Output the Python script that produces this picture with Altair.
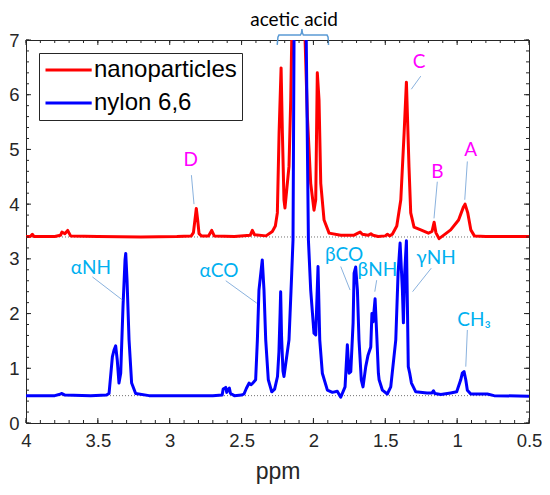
import altair as alt
import pandas as pd

# ---------------- data ----------------
series_names = ["nanoparticles", "nylon 6,6"]
series_colors = ["#ff0000", "#0000ff"]

red_ppm = [4.00, 3.97, 3.956, 3.945, 3.80, 3.76, 3.75, 3.73, 3.71, 3.69, 3.50, 3.20,
           2.95, 2.85, 2.835, 2.825, 2.815, 2.805, 2.796, 2.78, 2.73, 2.708, 2.69,
           2.55, 2.44, 2.425, 2.41, 2.33, 2.286, 2.265, 2.251, 2.239, 2.225, 2.216,
           2.205, 2.198, 2.17, 2.158, 2.151, 2.13, 2.10, 2.075, 2.058, 2.042, 2.019,
           1.996, 1.984, 1.973, 1.961, 1.949, 1.926, 1.891, 1.81, 1.72, 1.69, 1.675,
           1.66, 1.62, 1.60, 1.585, 1.55, 1.50, 1.485, 1.47, 1.451, 1.42, 1.392,
           1.369, 1.353, 1.335, 1.323, 1.30, 1.253, 1.20, 1.175, 1.16, 1.148, 1.126,
           1.10, 1.045, 0.99, 0.956, 0.945, 0.926, 0.905, 0.88, 0.80, 0.65, 0.50]
red_val = [3.41, 3.41, 3.45, 3.41, 3.41, 3.43, 3.49, 3.46, 3.52, 3.42, 3.41, 3.40,
           3.41, 3.42, 3.48, 3.70, 3.92, 3.70, 3.46, 3.42, 3.42, 3.52, 3.42,
           3.41, 3.43, 3.52, 3.44, 3.42, 3.50, 3.60, 3.84, 5.30, 6.49, 5.30,
           4.08, 3.93, 4.69, 5.90, 7.00, 9.00, 9.80, 9.00, 7.00, 5.60, 4.38,
           3.89, 4.08, 6.40, 5.90, 4.38, 3.71, 3.47, 3.43, 3.43, 3.47, 3.49,
           3.45, 3.43, 3.46, 3.43, 3.41, 3.42, 3.45, 3.42, 3.45, 3.60, 4.08,
           5.30, 6.23, 4.68, 3.84, 3.58, 3.53, 3.47, 3.50, 3.67, 3.48, 3.37,
           3.42, 3.53, 3.71, 3.95, 4.00, 3.84, 3.53, 3.42, 3.41, 3.41, 3.41]

blue_ppm = [4.00, 3.80, 3.77, 3.75, 3.73, 3.55, 3.44, 3.422, 3.399, 3.388, 3.376,
            3.365, 3.353, 3.341, 3.325, 3.311, 3.306, 3.297, 3.283, 3.265, 3.237,
            3.144, 2.90, 2.70, 2.635, 2.628, 2.61, 2.603, 2.595, 2.585, 2.577, 2.55,
            2.50, 2.483, 2.467, 2.448, 2.435, 2.425, 2.402, 2.39, 2.379, 2.356, 2.344,
            2.332, 2.314, 2.29, 2.27, 2.25, 2.24, 2.232, 2.228, 2.222, 2.212, 2.205,
            2.17, 2.151, 2.142, 2.135, 2.12, 2.09, 2.065, 2.05, 2.035, 2.019, 1.996,
            1.984, 1.968, 1.956, 1.938, 1.903, 1.868, 1.834, 1.81, 1.78, 1.764, 1.752,
            1.74, 1.724, 1.717, 1.706, 1.694, 1.683, 1.667, 1.655, 1.636, 1.62, 1.601,
            1.593, 1.585, 1.571, 1.56, 1.548, 1.543, 1.52, 1.486, 1.462, 1.427, 1.411,
            1.397, 1.381, 1.374, 1.365, 1.353, 1.346, 1.34, 1.33, 1.318, 1.288, 1.21,
            1.175, 1.165, 1.155, 1.114, 1.045, 1.003, 0.975, 0.964, 0.952, 0.94, 0.929,
            0.905, 0.79, 0.743, 0.50]
blue_val = [0.50, 0.50, 0.52, 0.54, 0.51, 0.50, 0.51, 0.54, 1.21, 1.33, 1.41,
            1.15, 0.73, 0.91, 2.13, 2.98, 3.10, 2.61, 1.52, 0.73, 0.54,
            0.50, 0.50, 0.50, 0.51, 0.62, 0.65, 0.56, 0.60, 0.64, 0.54, 0.50,
            0.51, 0.53, 0.63, 0.73, 0.70, 0.72, 0.79, 1.52, 2.43, 2.98, 2.43,
            1.52, 0.79, 0.57, 0.62, 0.85, 1.30, 2.00, 2.40, 1.60, 0.95, 0.85,
            1.52, 2.74, 3.35, 7.00, 10.0, 11.0, 10.0, 7.00, 3.35, 2.43, 1.64,
            1.61, 2.86, 1.52, 0.91, 0.60, 0.56, 0.58, 0.47, 0.66, 1.43, 0.91,
            0.94, 1.83, 2.74, 2.85, 2.43, 1.52, 0.79, 0.66, 1.03, 1.24, 1.39,
            2.00, 1.85, 2.27, 1.64, 0.91, 0.79, 0.60, 0.53, 0.66, 1.52, 2.74,
            3.29, 2.43, 1.83, 2.74, 3.33, 2.13, 1.03, 0.91, 0.73, 0.57, 0.55,
            0.55, 0.59, 0.54, 0.52, 0.55, 0.57, 0.79, 0.91, 0.94, 0.79, 0.60,
            0.53, 0.53, 0.50, 0.49]

baseline_vals = [3.4, 0.5]

peak_labels = ["D", "C", "B", "A"]
peak_x = [2.854, 1.265, 1.138, 0.905]
peak_y = [4.81, 6.60, 4.59, 4.99]

group_labels = ["αNH", "αCO", "βCO", "βNH", "γNH", "CH₃"]
group_x = [3.548, 2.657, 1.787, 1.555, 1.147, 0.882]
group_y = [2.83, 2.77, 3.07, 2.80, 3.01, 1.88]

leader_x1 = [2.849, 1.253, 1.138, 0.929, 3.538, 2.610, 1.810, 1.560, 1.180, 0.929]
leader_y1 = [4.53, 6.34, 4.41, 4.78, 2.67, 2.60, 2.86, 2.61, 2.83, 1.70]
leader_x2 = [2.831, 1.319, 1.161, 0.947, 3.330, 2.394, 1.745, 1.573, 1.310, 0.940]
leader_y2 = [4.00, 6.10, 3.74, 4.08, 2.25, 2.19, 2.43, 2.40, 2.40, 1.03]

brace_x = [2.252, 2.247, 2.240, 2.090, 2.083, 2.080, 2.077, 2.070, 1.905, 1.898, 1.895]
brace_y = [6.91, 7.05, 7.09, 7.09, 7.13, 7.20, 7.13, 7.09, 7.09, 7.05, 6.91]

acetic_label = ["acetic acid"]
acetic_x = [2.135]
acetic_y = [7.36]

x_tick_labels = [4, 3.5, 3, 2.5, 2, 1.5, 1, 0.5]
y_tick_labels = [0, 1, 2, 3, 4, 5, 6, 7]
x_minor = [round(0.5 + 0.1 * i, 1) for i in range(36)]
y_minor = [round(0.2 * i, 1) for i in range(36)]

# ---------------- tables ----------------
spec = pd.concat([
    pd.DataFrame({"ppm": red_ppm, "v": red_val, "series": series_names[0]}),
    pd.DataFrame({"ppm": blue_ppm, "v": blue_val, "series": series_names[1]}),
])
base_df = pd.DataFrame({"ppm": [4.0, 4.0], "ppm2": [0.5, 0.5], "v": baseline_vals})
peak_df = pd.DataFrame({"ppm": peak_x, "v": peak_y, "t": peak_labels})
group_df = pd.DataFrame({"ppm": group_x, "v": group_y, "t": group_labels})
lead_df = pd.DataFrame({"ppm": leader_x1, "v": leader_y1, "ppm2": leader_x2, "v2": leader_y2})
brace_df = pd.DataFrame({"ppm": brace_x, "v": brace_y, "i": list(range(len(brace_x)))})
acetic_df = pd.DataFrame({"ppm": acetic_x, "v": acetic_y, "t": acetic_label})
xmaj_df = pd.DataFrame({"ppm": x_tick_labels})
xmin_df = pd.DataFrame({"ppm": x_minor})
ymaj_df = pd.DataFrame({"v": y_tick_labels})
ymin_df = pd.DataFrame({"v": y_minor})

W, H = 503, 383
AX = "#262626"

x_scale = alt.Scale(domain=[0.5, 4], reverse=True, nice=False, zero=False)
y_scale = alt.Scale(domain=[0, 7], nice=False, zero=False)
x_axis = alt.Axis(values=x_tick_labels, format="~g", title="ppm", grid=False, ticks=False,
                  domain=False, labelFlush=False, labelFont="Liberation Sans",
                  labelFontSize=18.5, labelColor=AX, labelPadding=8,
                  titleFont="Liberation Sans", titleFontSize=23, titleFontWeight="normal",
                  titleColor=AX, titlePadding=11)
y_axis = alt.Axis(values=y_tick_labels, format="d", title=None, grid=False, ticks=False,
                  domain=False, labelFlush=False, labelFont="Liberation Sans",
                  labelFontSize=18.5, labelColor=AX, labelPadding=7)

X = lambda f="ppm": alt.X(f"{f}:Q", scale=x_scale, axis=x_axis)
Y = lambda f="v": alt.Y(f"{f}:Q", scale=y_scale, axis=y_axis)

baselines = alt.Chart(base_df).mark_rule(color="#707070", strokeWidth=1, strokeDash=[1, 2]).encode(
    x=X(), x2="ppm2:Q", y=Y())

lines = alt.Chart(spec).mark_line(strokeWidth=3, clip=True, strokeJoin="round").encode(
    x=X(), y=Y(),
    color=alt.Color("series:N",
                    scale=alt.Scale(domain=series_names, range=series_colors),
                    legend=alt.Legend(title=None, orient="none", legendX=13, legendY=13,
                                      padding=5, strokeColor=AX, fillColor="white",
                                      labelFont="Liberation Sans", labelFontSize=24,
                                      labelColor="black", symbolType="M-1,0H3.4",
                                      symbolSize=441, symbolStrokeWidth=3,
                                      labelOffset=26, rowPadding=9, labelLimit=300,
                                      cornerRadius=0)),
    detail="series:N")

leaders = alt.Chart(lead_df).mark_rule(color="#8AB2DE", strokeWidth=1).encode(
    x=X(), y=Y(), x2="ppm2:Q", y2="v2:Q")

peak_text = alt.Chart(peak_df).mark_text(font="Lato", fontSize=19, color="#FF00FF").encode(
    x=X(), y=Y(), text="t:N")
group_text = alt.Chart(group_df).mark_text(font="Lato", fontSize=19, color="#00B0F0").encode(
    x=X(), y=Y(), text="t:N")

brace = alt.Chart(brace_df).mark_line(color="#5B9BD5", strokeWidth=1.5, clip=False).encode(
    x=X(), y=Y(), order="i:Q")
acetic = alt.Chart(acetic_df).mark_text(font="Lato", fontSize=19, color="black", clip=False).encode(
    x=X(), y=Y(), text="t:N")

tick_style = dict(color=AX, strokeWidth=1)
xmaj_b = alt.Chart(xmaj_df).mark_rule(**tick_style).encode(x=X(), y=alt.value(H), y2=alt.value(H - 5))
xmaj_t = alt.Chart(xmaj_df).mark_rule(**tick_style).encode(x=X(), y=alt.value(0), y2=alt.value(5))
xmin_b = alt.Chart(xmin_df).mark_rule(**tick_style).encode(x=X(), y=alt.value(H), y2=alt.value(H - 3))
xmin_t = alt.Chart(xmin_df).mark_rule(**tick_style).encode(x=X(), y=alt.value(0), y2=alt.value(3))
ymaj_l = alt.Chart(ymaj_df).mark_rule(**tick_style).encode(y=Y(), x=alt.value(0), x2=alt.value(5))
ymaj_r = alt.Chart(ymaj_df).mark_rule(**tick_style).encode(y=Y(), x=alt.value(W), x2=alt.value(W - 5))
ymin_l = alt.Chart(ymin_df).mark_rule(**tick_style).encode(y=Y(), x=alt.value(0), x2=alt.value(3))
ymin_r = alt.Chart(ymin_df).mark_rule(**tick_style).encode(y=Y(), x=alt.value(W), x2=alt.value(W - 3))

chart = alt.layer(
    baselines, lines, leaders, peak_text, group_text, brace, acetic,
    xmaj_b, xmaj_t, xmin_b, xmin_t, ymaj_l, ymaj_r, ymin_l, ymin_r,
).properties(
    width=W, height=H,
    padding={"left": 18, "top": 32, "right": 13, "bottom": 64},
    autosize=alt.AutoSizeParams(type="none"),
    background="white",
).configure_view(stroke=AX, strokeWidth=1)

chart.save("out.html", embed_options={"renderer": "svg", "actions": False})
